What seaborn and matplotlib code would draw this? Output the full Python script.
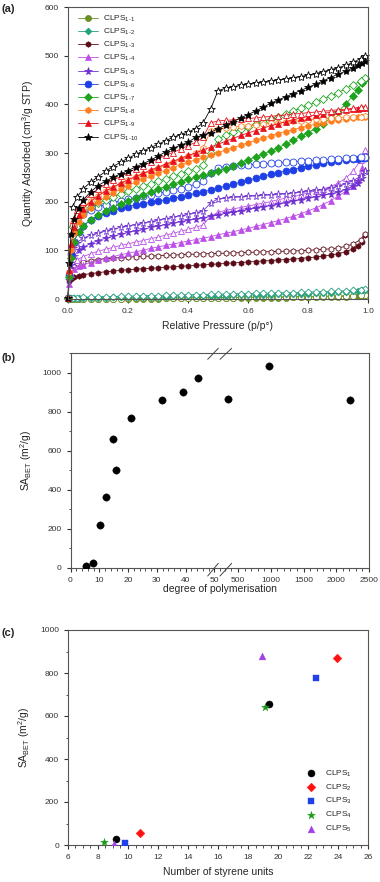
import numpy as np
import pandas as pd
import matplotlib
matplotlib.use("Agg")
import matplotlib.pyplot as plt
import matplotlib.ticker as mticker
from matplotlib.lines import Line2D
import seaborn as sns

# ── Style ──────────────────────────────────────────────────────────────────────
sns.set_style("ticks")
plt.rcParams.update({
    "font.family": ["Liberation Sans", "DejaVu Sans"],
    "font.size": 6,
    "mathtext.fontset": "custom",
    "mathtext.rm": "Liberation Sans",
    "mathtext.it": "Liberation Sans:italic",
    "axes.edgecolor": "#555555",
    "axes.linewidth": 0.8,
    "xtick.color": "#333333",
    "ytick.color": "#333333",
    "xtick.direction": "out",
    "ytick.direction": "out",
    "xtick.major.size": 3,
    "ytick.major.size": 3,
    "xtick.minor.size": 1.8,
    "ytick.minor.size": 1.8,
    "xtick.labelsize": 6,
    "ytick.labelsize": 6,
})

W, H = 380, 882

# ── (a) isotherm data: relative pressure grids ─────────────────────────────────
ADS_P = [0.0, 0.004, 0.01, 0.02, 0.035, 0.05, 0.075, 0.10, 0.125, 0.15,
         0.175, 0.20, 0.225, 0.25, 0.275, 0.30, 0.325, 0.35, 0.375, 0.40,
         0.425, 0.45, 0.475, 0.50, 0.525, 0.55, 0.575, 0.60, 0.625, 0.65,
         0.675, 0.70, 0.725, 0.75, 0.775, 0.80, 0.825, 0.85, 0.875, 0.90,
         0.925, 0.95, 0.965, 0.98, 0.99]
DES_P = [0.99, 0.975, 0.95, 0.925, 0.90, 0.875, 0.85, 0.825, 0.80, 0.775,
         0.75, 0.725, 0.70, 0.675, 0.65, 0.625, 0.60, 0.575, 0.55, 0.525,
         0.50, 0.475, 0.45, 0.425, 0.40, 0.375, 0.35, 0.325, 0.30, 0.275,
         0.25, 0.225, 0.20, 0.175, 0.15, 0.125, 0.10, 0.075, 0.05, 0.03, 0.015]

# adsorption branches (cm3/g STP)
ADS_1_1 = [0, 0, 0, 0, 0, 0, 1, 1, 1, 1, 1, 1, 1, 1, 1, 1, 2, 2, 2, 2,
           2, 2, 2, 2, 2, 2, 3, 3, 3, 3, 3, 3, 3, 4, 4, 4, 4, 4, 5, 5,
           5, 6, 6, 7, 8]
ADS_1_2 = [1, 2, 2, 2, 2, 3, 3, 3, 3, 4, 4, 4, 4, 5, 5, 5, 5, 6, 6, 6,
           6, 7, 7, 7, 7, 8, 8, 8, 9, 9, 9, 10, 10, 10, 11, 11, 12, 12, 13, 14,
           15, 16, 17, 18, 19]
ADS_1_3 = [3, 38, 42, 45, 48, 50, 52, 54, 56, 57, 59, 60, 61, 62, 63, 64, 65, 66, 67, 68,
           69, 70, 71, 72, 73, 74, 75, 76, 77, 78, 79, 80, 81, 82, 83, 85, 86, 88, 90, 93,
           97, 103, 109, 118, 132]
ADS_1_4 = [3, 30, 52, 62, 67, 70, 75, 80, 84, 87, 91, 94, 97, 100, 104, 107, 110, 113, 116, 119,
           122, 125, 128, 132, 135, 138, 142, 145, 149, 153, 157, 161, 165, 170, 175, 181, 187, 194, 202, 211,
           221, 233, 245, 270, 305]
ADS_1_5 = [3, 40, 70, 88, 100, 106, 114, 120, 125, 129, 133, 137, 140, 143, 147, 150, 153, 156, 159, 162,
           164, 167, 170, 173, 176, 179, 181, 184, 187, 190, 192, 195, 198, 201, 204, 207, 210, 213, 216, 220,
           225, 232, 238, 248, 262]
ADS_1_6 = [3, 50, 92, 118, 138, 150, 162, 170, 176, 181, 186, 190, 193, 196, 199, 201, 204, 207, 210, 213,
           217, 220, 224, 228, 232, 236, 240, 244, 248, 252, 256, 259, 263, 266, 270, 273, 276, 279, 281, 283,
           285, 287, 288, 289, 290]
ADS_1_7 = [3, 45, 85, 118, 138, 150, 163, 172, 180, 188, 195, 202, 208, 214, 220, 226, 231, 236, 241, 246,
           250, 254, 258, 262, 268, 274, 280, 286, 292, 298, 304, 311, 318, 326, 334, 342, 350, 360, 372, 385,
           400, 418, 430, 443, 452]
ADS_1_8 = [3, 55, 100, 135, 158, 172, 188, 200, 210, 218, 226, 233, 240, 246, 252, 258, 264, 270, 276, 281,
           286, 291, 296, 301, 306, 311, 316, 321, 326, 331, 335, 340, 344, 348, 352, 356, 359, 362, 365, 367,
           369, 371, 373, 374, 375]
ADS_1_9 = [3, 60, 112, 148, 172, 185, 200, 212, 222, 230, 238, 245, 252, 258, 265, 271, 277, 283, 289, 295,
           300, 306, 312, 318, 324, 330, 336, 341, 346, 351, 356, 360, 364, 368, 372, 375, 378, 381, 384, 386,
           388, 390, 391, 392, 393]
ADS_1_10 = [3, 74, 134, 165, 188, 203, 220, 233, 242, 250, 257, 264, 271, 278, 285, 294, 302, 310, 316, 322,
            332, 337, 342, 350, 357, 364, 372, 379, 386, 394, 402, 409, 415, 422, 428, 435, 441, 448, 455, 462,
            468, 475, 480, 485, 489]

# desorption branches (cm3/g STP)
DES_1_1 = [9, 8, 7, 7, 6, 6, 6, 5, 5, 5, 5, 5, 4, 4, 4, 4, 4, 4, 3, 3,
           3, 3, 3, 3, 3, 2, 2, 2, 2, 2, 2, 2, 2, 1, 1, 1, 1, 1, 1, 1, 1]
DES_1_2 = [20, 19, 18, 17, 16, 16, 15, 15, 14, 14, 13, 13, 13, 12, 12, 12, 11, 11, 11, 10,
           10, 10, 9, 9, 9, 8, 8, 8, 7, 7, 7, 6, 6, 6, 5, 5, 5, 4, 4, 3, 3]
DES_1_3 = [134, 122, 113, 108, 105, 103, 102, 101, 100, 99, 99, 98, 98, 97, 97, 96, 96, 95, 95, 94,
           94, 93, 93, 92, 92, 91, 90, 90, 89, 88, 88, 87, 86, 85, 84, 83, 81, 79, 76, 73, 68]
DES_1_4 = [307, 285, 262, 248, 238, 231, 226, 222, 218, 214, 210, 207, 204, 200, 197, 194, 191, 188, 185, 182,
           178, 170, 152, 147, 143, 139, 135, 131, 127, 124, 120, 117, 113, 110, 106, 102, 98, 93, 87, 80, 72]
DES_1_5 = [263, 252, 243, 237, 232, 228, 225, 223, 221, 219, 218, 216, 215, 214, 213, 212, 211, 210, 209, 207,
           206, 197, 181, 177, 174, 171, 168, 165, 162, 159, 156, 153, 150, 147, 144, 140, 136, 131, 125, 116, 105]
DES_1_6 = [292, 291, 290, 289, 288, 287, 286, 285, 284, 283, 282, 281, 280, 279, 278, 277, 276, 275, 274, 272,
           270, 258, 242, 236, 231, 227, 224, 220, 217, 214, 211, 208, 205, 202, 198, 194, 189, 183, 175, 165, 150]
DES_1_7 = [454, 448, 440, 432, 424, 417, 410, 404, 398, 392, 386, 380, 375, 369, 364, 359, 354, 349, 343, 337,
           328, 300, 275, 268, 262, 257, 252, 247, 242, 237, 232, 227, 222, 216, 210, 204, 197, 189, 178, 165, 148]
DES_1_8 = [376, 375, 374, 373, 372, 371, 370, 369, 368, 366, 365, 364, 362, 361, 359, 358, 356, 355, 353, 351,
           349, 345, 310, 300, 293, 287, 281, 275, 269, 263, 257, 251, 244, 237, 229, 221, 212, 202, 188, 172, 152]
DES_1_9 = [395, 394, 392, 390, 389, 387, 386, 384, 383, 381, 380, 378, 377, 375, 374, 372, 371, 370, 368, 367,
           366, 362, 332, 322, 315, 308, 301, 295, 288, 281, 274, 267, 260, 252, 244, 236, 226, 215, 200, 183, 162]
DES_1_10 = [500, 494, 486, 480, 475, 471, 467, 463, 460, 457, 455, 452, 450, 447, 445, 443, 441, 439, 436, 433,
            428, 390, 362, 350, 343, 338, 332, 325, 318, 311, 304, 297, 289, 281, 272, 262, 251, 240, 226, 209, 189]

SAMPLES = ["1-1", "1-2", "1-3", "1-4", "1-5", "1-6", "1-7", "1-8", "1-9", "1-10"]
ADS = [ADS_1_1, ADS_1_2, ADS_1_3, ADS_1_4, ADS_1_5, ADS_1_6, ADS_1_7, ADS_1_8, ADS_1_9, ADS_1_10]
DES = [DES_1_1, DES_1_2, DES_1_3, DES_1_4, DES_1_5, DES_1_6, DES_1_7, DES_1_8, DES_1_9, DES_1_10]
COLORS = ["#6b8e23", "#23a07e", "#5a0a16", "#bb4fe8", "#6e2fd0",
          "#1f3fe6", "#1fa31f", "#ff7f1e", "#e8101a", "#000000"]
MARKERS = ["o", "D", "h", "^", "*", "o", "D", "h", "^", "*"]
MSIZES = [4.4, 3.5, 4.0, 4.4, 5.8, 5.0, 3.7, 4.4, 4.6, 6.0]

# ── (b) SA vs degree of polymerisation ─────────────────────────────────────────
DP_LOW = [5.3, 7.9, 10.4, 12.2, 14.9, 15.8, 21.1, 31.9, 39.2, 44.4]
SA_LOW = [9, 27, 222, 365, 659, 502, 766, 862, 899, 974]
DP_HIGH = [352, 973, 2210]
SA_HIGH = [864, 1036, 857]

# ── (c) SA vs number of styrene units ──────────────────────────────────────────
C_GROUPS = ["1", "2", "3", "4", "5"]
C_UNITS = [[9.2, 19.4], [10.8, 23.9], [9.8, 22.5], [8.4, 19.1], [9.1, 18.9]]
C_SA = [[27, 658], [58, 869], [9, 775], [12, 643], [5, 880]]
C_COLORS = ["#000000", "#ff1010", "#2040e8", "#1a9a1a", "#a040e8"]
C_MARKERS = ["o", "D", "s", "*", "^"]
C_SIZES = [26, 20, 20, 34, 24]


def rect(l, t, r, b):
    return [l / W, 1 - b / H, (r - l) / W, (b - t) / H]


def sub(s):
    return "CLPS$_{\\mathregular{" + s.replace("-", "\u2010") + "}}$"


fig = plt.figure(figsize=(W / 100, H / 100), dpi=100)

# ═══════════════════════════════════════════════════════════════════════════════
# (a) N2 isotherms
# ═══════════════════════════════════════════════════════════════════════════════
ax = fig.add_axes(rect(68, 7, 368, 299))
for name, ads, des, col, mk, ms in zip(SAMPLES, ADS, DES, COLORS, MARKERS, MSIZES):
    sns.lineplot(x=ADS_P, y=ads, ax=ax, sort=False, estimator=None, color=col,
                 lw=0.6, marker=mk, markersize=ms, markerfacecolor=col,
                 markeredgecolor=col, markeredgewidth=0.5, clip_on=False,
                 label=sub(name))
    sns.lineplot(x=DES_P, y=des, ax=ax, sort=False, estimator=None, color=col,
                 lw=0.6, marker=mk, markersize=ms, markerfacecolor="white",
                 markeredgecolor=col, markeredgewidth=0.6, clip_on=False,
                 label="_nolegend_")
ax.set_xlim(0, 1)
ax.set_ylim(0, 600)
ax.set_xticks(np.arange(0, 1.01, 0.2))
ax.xaxis.set_major_formatter(mticker.FormatStrFormatter("%.1f"))
ax.set_yticks(np.arange(0, 601, 100))
ax.set_xlabel("Relative Pressure (p/p°)", fontsize=7.5, labelpad=4)
ax.set_ylabel("Quantity Adsorbed (cm$^{\\mathregular{3}}$/g STP)", fontsize=7.5, labelpad=6)
h, l = ax.get_legend_handles_labels()
ax.legend(h, l, loc="upper left", bbox_to_anchor=(0.01, 1.0), frameon=False,
          fontsize=6, handlelength=2.4, labelspacing=0.36, handletextpad=0.6,
          borderaxespad=0.4)
fig.text(2 / W, 1 - 9 / H, "(a)", fontsize=8, fontweight="bold", va="center")

# ═══════════════════════════════════════════════════════════════════════════════
# (b) SA_BET vs degree of polymerisation (broken x axis)
# ═══════════════════════════════════════════════════════════════════════════════
axL = fig.add_axes(rect(70.5, 353, 221, 568))
axR = fig.add_axes(rect(221, 353, 369, 568))
sns.scatterplot(x=DP_LOW, y=SA_LOW, ax=axL, color="black", s=28, edgecolor="black",
                linewidth=0.3, zorder=3)
sns.scatterplot(x=DP_HIGH, y=SA_HIGH, ax=axR, color="black", s=28, edgecolor="black",
                linewidth=0.3, zorder=3)
axL.set_xlim(0, 52.3)
axR.set_xlim(240, 2500)
for a in (axL, axR):
    a.set_ylim(0, 1100)
axL.set_xticks(np.arange(0, 51, 10))
axL.xaxis.set_minor_locator(mticker.MultipleLocator(2))
axR.set_xticks(np.arange(500, 2501, 500))
axR.xaxis.set_minor_locator(mticker.MultipleLocator(100))
axL.set_yticks(np.arange(0, 1001, 200))
axL.yaxis.set_minor_locator(mticker.MultipleLocator(100))
axL.spines["right"].set_visible(False)
axR.spines["left"].set_visible(False)
axR.tick_params(axis="y", which="both", left=False, labelleft=False)
axL.set_ylabel("SA$_{\\mathregular{BET}}$ (m$^{\\mathregular{2}}$/g)", fontsize=7.5, labelpad=6)
fig.text((70.5 + 369) / 2 / W, 1 - 589 / H, "degree of polymerisation",
         fontsize=7.5, ha="center", va="center")
for y0, y1 in ((359.3, 348.3), (576, 563.3)):
    for x0, x1 in ((207.7, 218.3), (220, 231.7)):
        fig.add_artist(Line2D([x0 / W, x1 / W], [1 - y0 / H, 1 - y1 / H],
                              transform=fig.transFigure, color="#444444", lw=0.7))
fig.text(2 / W, 1 - 358 / H, "(b)", fontsize=8, fontweight="bold", va="center")

# ═══════════════════════════════════════════════════════════════════════════════
# (c) SA_BET vs number of styrene units
# ═══════════════════════════════════════════════════════════════════════════════
axc = fig.add_axes(rect(68, 630, 368, 845))
for g, xs, ys, col, mk, sz in zip(C_GROUPS, C_UNITS, C_SA, C_COLORS, C_MARKERS, C_SIZES):
    sns.scatterplot(x=xs, y=ys, ax=axc, color=col, marker=mk, s=sz, edgecolor=col,
                    linewidth=0.3, label="CLPS$_{\\mathregular{" + g + "}}$", zorder=3)
axc.set_xlim(6, 26)
axc.set_ylim(0, 1000)
axc.set_xticks(np.arange(6, 27, 2))
axc.xaxis.set_minor_locator(mticker.MultipleLocator(0.5))
axc.set_yticks(np.arange(0, 1001, 200))
axc.yaxis.set_minor_locator(mticker.MultipleLocator(100))
axc.set_xlabel("Number of styrene units", fontsize=7.5, labelpad=4)
axc.set_ylabel("SA$_{\\mathregular{BET}}$ (m$^{\\mathregular{2}}$/g)", fontsize=7.5, labelpad=6)
axc.legend(loc="upper left", bbox_to_anchor=(0.785, 0.372), frameon=False, fontsize=6,
           handlelength=1.0, labelspacing=0.45, handletextpad=1.2, borderaxespad=0)
fig.text(2 / W, 1 - 633 / H, "(c)", fontsize=8, fontweight="bold", va="center")

for a in (ax, axL, axR, axc):
    for s in a.spines.values():
        s.set_linewidth(0.8)

fig.savefig("out.png", dpi=100)
